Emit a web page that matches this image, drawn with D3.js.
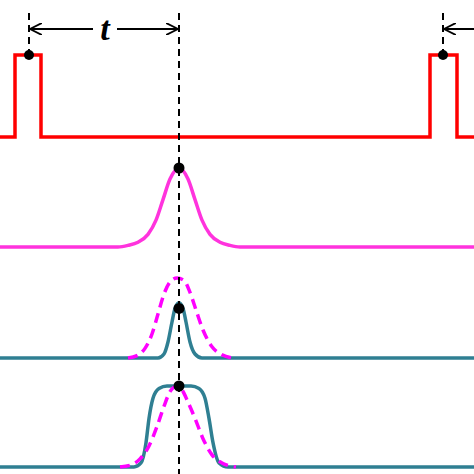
<!DOCTYPE html><html><head><meta charset="utf-8">
<script src="https://cdn.jsdelivr.net/npm/d3@7"></script>
<style>body{margin:0;background:#fff}</style></head><body>
<svg id="c" width="474" height="474"></svg>
<script>
// time positions (px-like units) and amplitudes 0..1
const pulseTrain = [[0,0],[15,0],[15,1],[41,1],[41,0],[430,0],[430,1],[457,1],[457,0],[474,0]];
const pulseMarks = [29,443];
const delayT = 179;
const gauss = [[0,0],[118,0],[128,0.02],[138,0.06],[148,0.16],[156,0.34],[163,0.6],[170,0.86],[179,1],[188,0.86],[195,0.6],[202,0.34],[210,0.16],[220,0.06],[230,0.02],[240,0],[474,0]];
const narrowOut = [[0,0],[158,0],[164,0.05],[168,0.2],[172,0.45],[175,0.62],[179,0.69],[183,0.62],[186,0.45],[190,0.2],[195,0.05],[202,0],[474,0]];
const narrowRef = [[128,0],[137,0.03],[145,0.12],[152,0.3],[158,0.55],[164,0.8],[170,0.95],[177,1],[184,0.97],[190,0.82],[196,0.6],[203,0.35],[212,0.14],[222,0.04],[232,0]];
const flatOut = [[0,0],[134,0],[141,0.05],[146,0.3],[149,0.6],[153,0.85],[159,0.97],[167,1],[191,1],[199,0.97],[205,0.85],[209,0.6],[213,0.3],[219,0.05],[228,0],[474,0]];
const flatRef = [[120,0],[130,0.02],[140,0.1],[149,0.26],[157,0.5],[164,0.75],[170,0.93],[176,0.99],[182,0.95],[188,0.8],[195,0.6],[203,0.35],[212,0.15],[222,0.05],[236,0]];
const dotAmps = [1,0.62,1];
const label = "t";

const svg = d3.select("#c");
const x = d3.scaleLinear().domain([0,474]).range([0,474]);
const panels = [{base:137,h:82},{base:247,h:79},{base:358,h:80},{base:467,h:81}];
const ys = panels.map(p=>d3.scaleLinear().domain([0,1]).range([p.base,p.base-p.h]));
const line = (y,curve)=>d3.line().x(d=>x(d[0])).y(d=>y(d[1])).curve(curve);

svg.append("path").attr("d",line(ys[0],d3.curveLinear)(pulseTrain)).attr("fill","none").attr("stroke","#ff0000").attr("stroke-width",3.5);
svg.append("path").attr("d",line(ys[1],d3.curveMonotoneX)(gauss)).attr("fill","none").attr("stroke","#ff33dd").attr("stroke-width",3.5);
svg.append("path").attr("d",line(ys[2],d3.curveMonotoneX)(narrowOut)).attr("fill","none").attr("stroke","#2f7f92").attr("stroke-width",3.5);
svg.append("path").attr("d",line(ys[2],d3.curveMonotoneX)(narrowRef)).attr("fill","none").attr("stroke","#ff00ff").attr("stroke-width",3.5).attr("stroke-dasharray","10,6");
svg.append("path").attr("d",line(ys[3],d3.curveMonotoneX)(flatOut)).attr("fill","none").attr("stroke","#2f7f92").attr("stroke-width",3.5);
svg.append("path").attr("d",line(ys[3],d3.curveMonotoneX)(flatRef)).attr("fill","none").attr("stroke","#ff00ff").attr("stroke-width",3.5).attr("stroke-dasharray","10,6");

// dashed guides
svg.append("line").attr("x1",x(delayT)).attr("x2",x(delayT)).attr("y1",13).attr("y2",474).attr("stroke","#000").attr("stroke-width",2).attr("stroke-dasharray","7,5");
pulseMarks.forEach(m=>svg.append("line").attr("x1",x(m)).attr("x2",x(m)).attr("y1",13).attr("y2",ys[0](1)).attr("stroke","#000").attr("stroke-width",2).attr("stroke-dasharray","7,5"));

// arrows
const defs=svg.append("defs");
defs.append("marker").attr("id","ah").attr("viewBox","0 0 10 10").attr("refX",10).attr("refY",5).attr("markerWidth",12).attr("markerHeight",12).attr("markerUnits","userSpaceOnUse").attr("orient","auto-start-reverse")
 .append("path").attr("d","M0,0L10,5L0,10").attr("fill","none").attr("stroke","#000").attr("stroke-width",1.6);
const ay=29;
svg.append("line").attr("x1",x(pulseMarks[0])+1).attr("x2",x(delayT)-1).attr("y1",ay).attr("y2",ay).attr("stroke","#000").attr("stroke-width",2).attr("marker-start","url(#ah)").attr("marker-end","url(#ah)");
svg.append("line").attr("x1",x(pulseMarks[1])+1).attr("x2",480).attr("y1",ay).attr("y2",ay).attr("stroke","#000").attr("stroke-width",2).attr("marker-start","url(#ah)");
svg.append("rect").attr("x",93).attr("y",14).attr("width",24).attr("height",30).attr("fill","#fff");
svg.append("text").attr("x",105).attr("y",40).attr("text-anchor","middle").attr("font-family","Liberation Serif").attr("font-style","italic").attr("font-weight","bold").attr("font-size",34).text(label);

// dots
svg.selectAll(".pd").data(pulseMarks).join("circle").attr("cx",d=>x(d)).attr("cy",ys[0](1)).attr("r",5).attr("fill","#000");
dotAmps.forEach((a,i)=>svg.append("circle").attr("cx",x(delayT)).attr("cy",ys[i+1](a)).attr("r",5.5).attr("fill","#000"));
</script></body></html>
